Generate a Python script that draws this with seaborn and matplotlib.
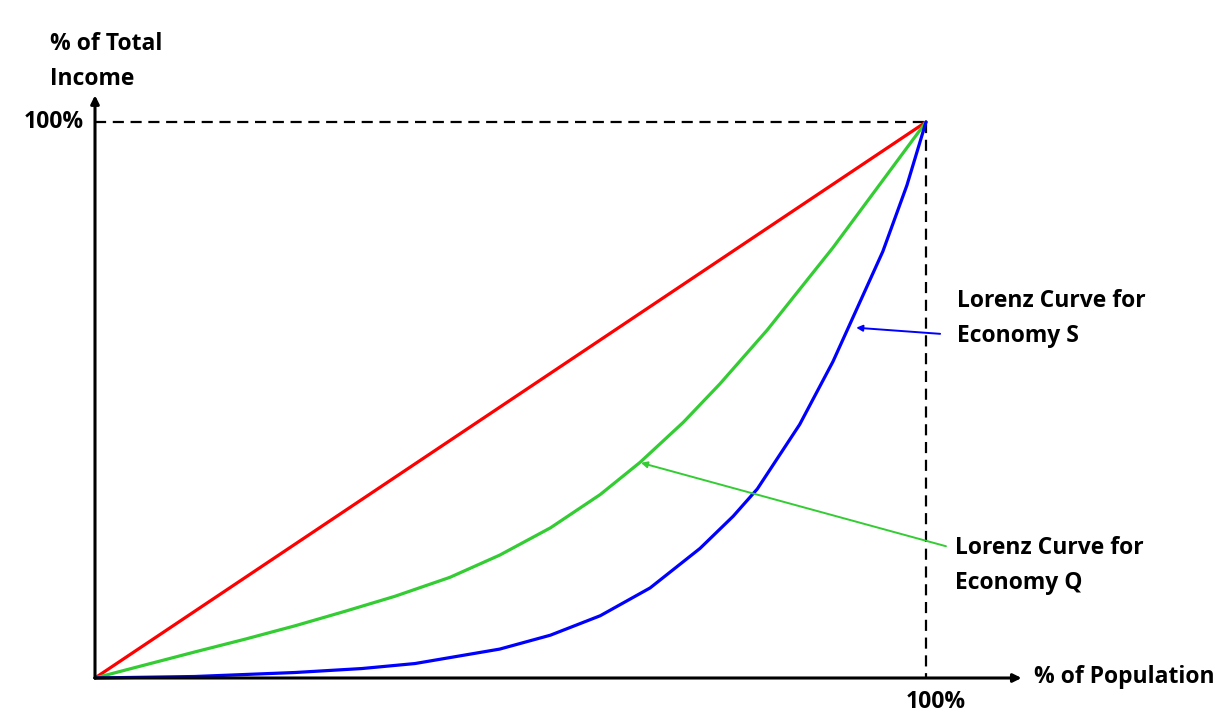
import pandas as pd
import seaborn as sns
import matplotlib
matplotlib.use("Agg")
import matplotlib.pyplot as plt

# line of equality
equal_x = [0, 100]
equal_y = [0, 100]

# Lorenz curve for Economy Q (green)
q_x = [0, 6.0, 12.0, 18.1, 24.1, 30.1, 36.1, 42.7, 48.7, 54.8, 60.8, 65.6, 70.8, 75.2, 80.9, 88.8, 94.8, 100]
q_y = [0, 2.34, 4.68, 7.0, 9.4, 12.0, 14.7, 18.1, 22.1, 27.0, 33.0, 38.8, 46.0, 52.9, 62.6, 77.4, 89.5, 100]

# Lorenz curve for Economy S (blue)
s_x = [0, 12.0, 24.1, 32.1, 38.5, 48.7, 54.8, 60.8, 66.8, 72.8, 76.8, 79.7, 84.8, 88.8, 94.8, 97.7, 100]
s_y = [0, 0.27, 0.99, 1.7, 2.6, 5.2, 7.7, 11.2, 16.2, 23.3, 29.1, 34.0, 45.6, 56.9, 76.7, 88.6, 100]

sns.set_style("white")
plt.rcParams['font.family'] = ['Open Sans', 'DejaVu Sans']

fig = plt.figure(figsize=(12.32, 7.22), dpi=100)
ax = fig.add_axes([0, 0, 1, 1])
ax.set_xlim(-95 / 8.31, (1232 - 95) / 8.31)
ax.set_ylim(-44 / 5.56, 678 / 5.56)
ax.axis("off")

# dashed guides at 100%
ax.plot([0, 100], [100, 100], color="black", lw=1.6, ls=(0, (5, 3)))
ax.plot([100, 100], [100, 0], color="black", lw=1.6, ls=(0, (5, 3)))

sns.lineplot(x=equal_x, y=equal_y, color="#ff0000", lw=2.3, ax=ax, sort=False)
sns.lineplot(x=q_x, y=q_y, color="#33cc33", lw=2.3, ax=ax, sort=False)
sns.lineplot(x=s_x, y=s_y, color="#0000ff", lw=2.3, ax=ax, sort=False)

# axes with arrowheads
ax.annotate("", xy=(111.5, 0), xytext=(0, 0),
            arrowprops=dict(arrowstyle="-|>", color="black", lw=2.2,
                            mutation_scale=12, shrinkA=0, shrinkB=0))
ax.annotate("", xy=(0, 104.8), xytext=(0, 0),
            arrowprops=dict(arrowstyle="-|>", color="black", lw=2.2,
                            mutation_scale=12, shrinkA=0, shrinkB=0))

bold = dict(fontsize=16.5, fontweight="bold", color="black")

ax.text(-5.4, 110.9, "% of Total\nIncome", ha="left", va="center", linespacing=1.6, **bold)
ax.text(-1.4, 100, "100%", ha="right", va="center", **bold)
ax.text(101.2, -4.3, "100%", ha="center", va="center", **bold)
ax.text(113.0, 0.2, "% of Population", ha="left", va="center", **bold)
ax.text(103.7, 64.6, "Lorenz Curve for\nEconomy S", ha="left", va="center", linespacing=1.6, **bold)
ax.text(103.5, 20.2, "Lorenz Curve for\nEconomy Q", ha="left", va="center", linespacing=1.6, **bold)

# callout arrows
ax.annotate("", xy=(91.6, 63.0), xytext=(101.7, 61.9),
            arrowprops=dict(arrowstyle="-|>", color="#0000ff", lw=1.4,
                            mutation_scale=9, shrinkA=0, shrinkB=0))
ax.annotate("", xy=(65.7, 38.7), xytext=(102.4, 23.7),
            arrowprops=dict(arrowstyle="-|>", color="#33cc33", lw=1.4,
                            mutation_scale=9, shrinkA=0, shrinkB=0))

fig.savefig("out.png", dpi=100)
